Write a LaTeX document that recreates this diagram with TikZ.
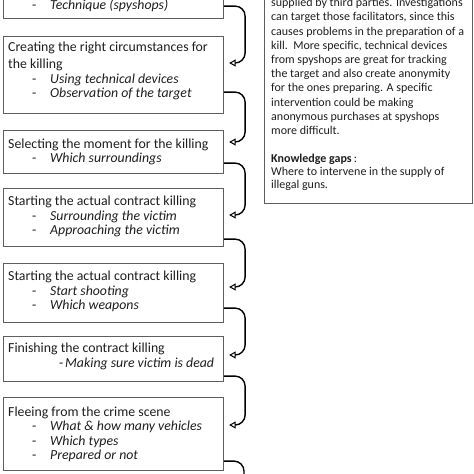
\documentclass[tikz,border=0pt]{standalone}
\usepackage{fontspec}
\setmainfont{Carlito}
\usetikzlibrary{arrows.meta,calc}
\definecolor{boxgray}{HTML}{5E5E5E}
\definecolor{txt}{HTML}{1E1E1E}
\begin{document}
\begin{tikzpicture}[x=1pt,y=-1pt,
  box/.style={draw=boxgray, line width=1.1pt, anchor=north west, inner sep=0pt, minimum width=220pt},
  title/.style={anchor=west, inner sep=0pt, font=\fontsize{13.8}{16}\selectfont, text=txt, text height=9.6pt, text depth=3pt},
  item/.style={title, font=\fontsize{13.8}{16}\selectfont\itshape},
  note/.style={anchor=west, inner sep=0pt, font=\fontsize{12}{14}\selectfont, text=txt, text height=8.4pt, text depth=2.6pt},
  conn/.style={line width=1.4pt, rounded corners=10pt, -{Triangle[open, length=6.5pt, width=7pt, line width=1pt]}},
]
\useasboundingbox (0,0) rectangle (474,474);
\clip (0,0) rectangle (474,474);
% left boxes
\node[box, minimum height=78pt] (b1) at (3,-60) {};
\node[box, minimum height=77pt] (b2) at (3,36) {};
\node[box, minimum height=43pt] (b3) at (3,130) {};
\node[box, minimum height=58pt] (b4) at (3,188) {};
\node[box, minimum height=59pt] (b5) at (3,263) {};
\node[box, minimum height=45pt] (b6) at (3,336) {};
\node[box, minimum height=73pt] (b7) at (3,397) {};
% right box
\node[box, minimum width=208pt, minimum height=423pt] (rb) at (264,-220) {};
% texts box 1
\node[title] (d1a) at (32,6) {-};
\node[item] (i1a) at (50,6) {Technique (spyshops)};
% box 2
\node[title] (t2a) at (8,48) {Creating the right circumstances for};
\node[title] (t2b) at (8,65) {the killing};
\node[title] (d2a) at (32,80) {-};
\node[item] (i2a) at (50,80) {Using technical devices};
\node[title] (d2b) at (32,94) {-};
\node[item] (i2b) at (50,94) {Observation of the target};
% box 3
\node[title] (t3a) at (8,145) {Selecting the moment for the killing};
\node[title] (d3a) at (32,159) {-};
\node[item] (i3a) at (50,159) {Which surroundings};
% box 4
\node[title] (t4a) at (8,202) {Starting the actual contract killing};
\node[title] (d4a) at (32,217) {-};
\node[item] (i4a) at (50,217) {Surrounding the victim};
\node[title] (d4b) at (32,231) {-};
\node[item] (i4b) at (50,231) {Approaching the victim};
% box 5
\node[title] (t5a) at (8,277) {Starting the actual contract killing};
\node[title] (d5a) at (32,292) {-};
\node[item] (i5a) at (50,292) {Start shooting};
\node[title] (d5b) at (32,306) {-};
\node[item] (i5b) at (50,306) {Which weapons};
% box 6
\node[title] (t6a) at (8,349) {Finishing the contract killing};
\node[title] (d6a) at (59,364) {-};
\node[item] (i6a) at (65,364) {Making sure victim is dead};
% box 7
\node[title] (t7a) at (8,413) {Fleeing from the crime scene};
\node[title] (d7a) at (32,427) {-};
\node[item] (i7a) at (50,427) {What \& how many vehicles};
\node[title] (d7b) at (32,442) {-};
\node[item] (i7b) at (50,442) {Which types};
\node[title] (d7c) at (32,456) {-};
\node[item] (i7c) at (50,456) {Prepared or not};
% right box text
\node[note] (r1) at (271,3.8) {supplied by third parties. Investigations};
\node[note] (r2) at (271,18) {can target those facilitators, since this};
\node[note] (r3) at (271,32.2) {causes problems in the preparation of a};
\node[note] (r4) at (271,46.4) {kill.\ \ More specific, technical devices};
\node[note] (r5) at (271,60.6) {from spyshops are great for tracking};
\node[note] (r6) at (271,74.8) {the target and also create anonymity};
\node[note] (r7) at (271,89) {for the ones preparing. A specific};
\node[note] (r8) at (271,103.2) {intervention could be making};
\node[note] (r9) at (271,117.4) {anonymous purchases at spyshops};
\node[note] (r10) at (271,131.6) {more difficult.};
\node[note] (r11) at (271,160) {\textbf{Knowledge gaps}\,:};
\node[note] (r12) at (271,173) {Where to intervene in the supply of};
\node[note] (r13) at (271,186) {illegal guns.};
% connectors
\coordinate (offb) at (244,520);
\draw[conn] ($(b1.south east)+(0,-13)$) -| ($(b2.north east)+(21,27)$) -- ($(b2.north east)+(5,27)$);
\draw[conn] ($(b2.south east)+(0,-22)$) -| ($(b3.north east)+(21,12)$) -- ($(b3.north east)+(5,12)$);
\draw[conn] ($(b3.south east)+(0,-11)$) -| ($(b4.north east)+(21,27)$) -- ($(b4.north east)+(5,27)$);
\draw[conn] ($(b4.south east)+(0,-8)$) -| ($(b5.north east)+(21,24)$) -- ($(b5.north east)+(5,24)$);
\draw[conn] ($(b5.south east)+(0,-15)$) -| ($(b6.north east)+(21,19)$) -- ($(b6.north east)+(5,19)$);
\draw[conn] ($(b6.south east)+(0,-6)$) -| ($(b7.north east)+(21,28)$) -- ($(b7.north east)+(5,28)$);
\draw[line width=1.4pt, rounded corners=10pt] ($(b7.south east)+(0,-10)$) -| (offb);
\end{tikzpicture}
\end{document}
